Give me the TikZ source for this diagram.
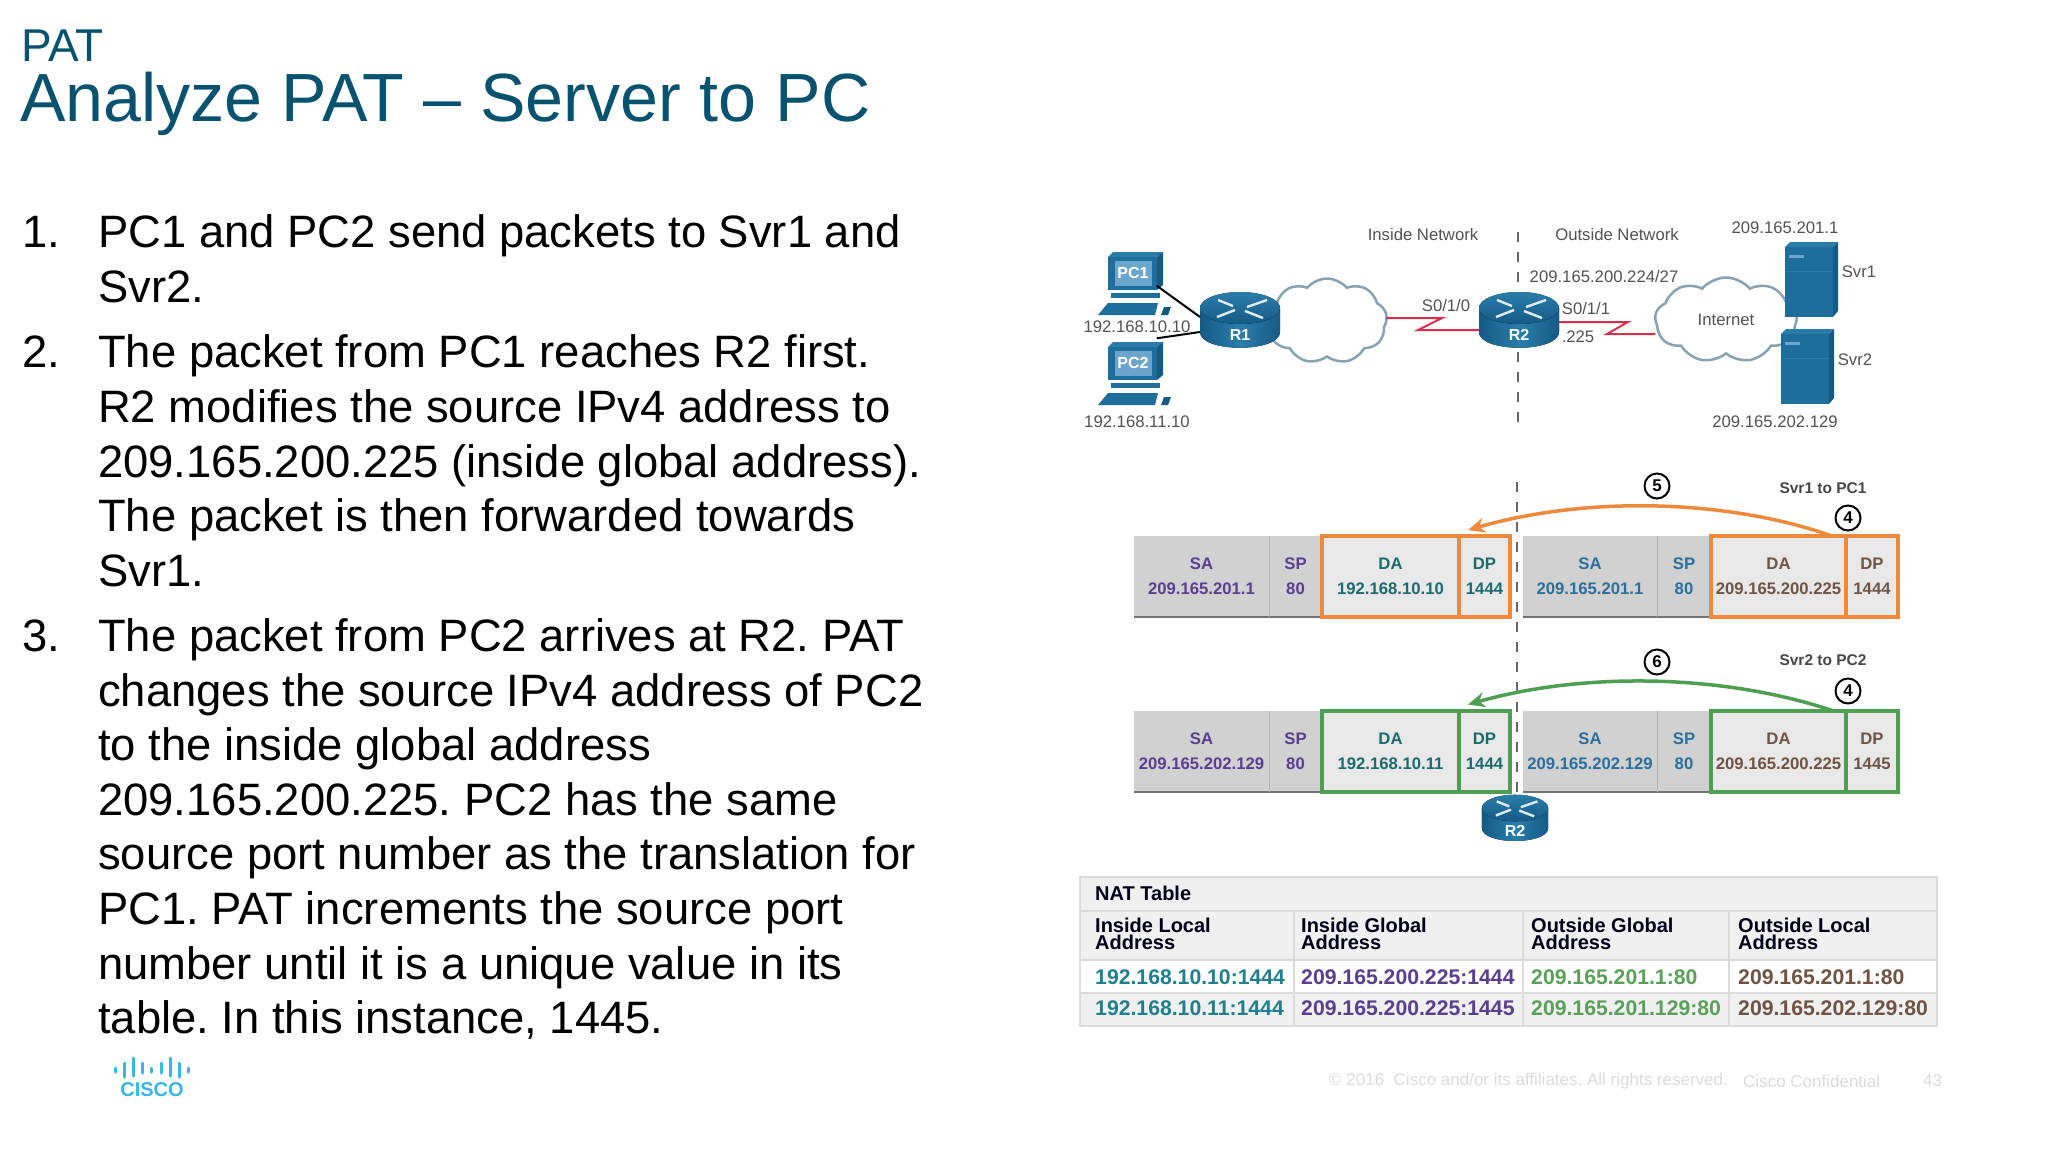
\documentclass[tikz,border=0pt]{standalone}
\usepackage{fontspec}
\setmainfont{Liberation Sans}
\usepackage{xcolor}
\usetikzlibrary{positioning}
\usetikzlibrary{shapes.symbols}
\usetikzlibrary{arrows.meta}

\definecolor{title-blue}{HTML}{07526F}
\definecolor{icon-blue}{HTML}{1E6E9C}
\definecolor{icon-dark}{HTML}{155A85}
\definecolor{icon-light}{HTML}{2A7DAB}
\definecolor{screen-blue}{HTML}{6BA5CB}
\definecolor{cloud-grey}{HTML}{87A3B1}
\definecolor{link-red}{HTML}{D7304F}
\definecolor{mark-orange}{HTML}{EF8A3C}
\definecolor{mark-green}{HTML}{4E9F52}
\definecolor{pk-purple}{HTML}{5B3F8F}
\definecolor{pk-teal}{HTML}{1D6A6E}
\definecolor{pk-blue}{HTML}{2B6F9C}
\definecolor{pk-brown}{HTML}{6F5445}
\definecolor{nat-teal}{HTML}{1F7F8C}
\definecolor{nat-green}{HTML}{5AA05A}
\definecolor{logo-blue}{HTML}{38B6E8}

% name, x, y, scale, label
\newcommand{\routericon}[5]{
\begin{scope}[shift={(#2,#3)},scale=#4]
\fill [left color=icon-dark, right color=icon-dark, middle color=icon-light]
      (-40,0) -- (-40,24) .. controls (-40,45) and (40,45) .. (40,24) -- (40,0) -- cycle;
\fill [top color=icon-light, bottom color=icon-dark] (0,0) ellipse [x radius=40, y radius=16];
\draw [router-x] (-22,-8) -- (-7,-2) (27,-8) -- (7,-1) (-23,9) -- (-5,2) (23,10) -- (5,3);
\node (#1) [router-a, minimum width=80pt*#4] at (0,27) {#5};
\end{scope}
}
% name, x, y, label
\newcommand{\pcicon}[4]{
\begin{scope}[shift={(#2,#3)}]
\fill [icon-light] (-25,-16) -- (-20,-21) -- (30,-21) -- (24,-16) -- cycle;
\fill [icon-dark]  (24,-16) -- (30,-21) -- (30,12) -- (24,17) -- cycle;
\fill [icon-blue]  (-25,-16) rectangle (24,17);
\fill [icon-blue]  (-22,20) rectangle (27,25);
\fill [icon-blue]  (-25,30) -- (25,30) -- (22,42) -- (-35,42) -- cycle;
\fill [icon-dark]  (31,34) -- (38,34) -- (35,42) -- (28,42) -- cycle;
\node (#1) [screen-a] at (0,0) {#4};
\end{scope}
}
% name, x, y
\newcommand{\svricon}[3]{
\begin{scope}[shift={(#2,#3)}]
\fill [icon-light] (-24,-35) -- (-19,-40) -- (29,-40) -- (24,-35) -- cycle;
\fill [icon-dark]  (24,-35) -- (29,-40) -- (29,29) -- (24,35) -- cycle;
\node (#1) [svr-a] at (0,0) {};
\draw [icon-light, line width=1pt] (-24,-11) -- (24,-11);
\fill [screen-blue] (-20,-27) rectangle (-5,-24);
\end{scope}
}

\begin{document}
\frenchspacing
\begin{tikzpicture}
[
x=1pt, y=-1pt,
head-a/.style={anchor=base west, inner sep=0pt, title-blue, font=\fontsize{46pt}{46pt}\selectfont},
head-b/.style={anchor=base west, inner sep=0pt, title-blue, font=\fontsize{68.2pt}{68.2pt}\selectfont},
body-a/.style={anchor=base west, inner sep=0pt, black, font=\fontsize{45.4pt}{45.4pt}\selectfont},
text-a/.style={inner sep=0pt, black!68, font=\fontsize{16.7pt}{16.7pt}\selectfont},
text-b/.style={inner sep=0pt, black!72, font=\fontsize{15.5pt}{15.5pt}\selectfont\bfseries},
foot-a/.style={anchor=west, inner sep=0pt, black!14, font=\fontsize{17pt}{17pt}\selectfont},
screen-a/.style={fill=screen-blue, minimum width=37pt, minimum height=25pt, inner sep=0pt, text=white, font=\fontsize{16pt}{16pt}\selectfont\bfseries},
router-a/.style={inner sep=0pt, outer sep=0pt, text=white, font=\fontsize{16pt}{16pt}\selectfont\bfseries},
router-x/.style={white!85!icon-light, line width=2.4pt},
svr-a/.style={fill=icon-blue, minimum width=48pt, minimum height=70pt, inner sep=0pt, outer sep=0pt},
cloud-a/.style={cloud, cloud puffs=9, cloud puff arc=100, aspect=1.5, draw=cloud-grey, fill=white, line width=2.5pt,
                inner sep=0pt, outer sep=0pt, text=black!68, font=\fontsize{16.7pt}{16.7pt}\selectfont},
wire-a/.style={black, line width=2pt},
serial-a/.style={link-red, line width=2pt},
divide-a/.style={black!60, line width=2.6pt, dash pattern=on 10pt off 10pt},
cell-a/.style={minimum height=81pt, inner sep=0pt, outer sep=0pt, align=center, font=\fontsize{16.7pt}{25pt}\selectfont\bfseries},
cell-grey/.style={cell-a, fill=black!18},
cell-pale/.style={cell-a, fill=black!9},
edge-a/.style={black!55, line width=2pt},
frame-o/.style={draw=mark-orange, line width=4pt},
frame-g/.style={draw=mark-green, line width=4pt},
arc-o/.style={mark-orange, line width=3.5pt, -{Stealth[length=17pt, width=15pt]}},
arc-g/.style={mark-green, line width=3.5pt, -{Stealth[length=17pt, width=15pt]}},
step-a/.style={circle, draw=black, line width=2pt, minimum size=25pt, inner sep=0pt, text=black, font=\fontsize{17pt}{17pt}\selectfont\bfseries},
nat-a/.style={anchor=west, inner sep=0pt, text=black!90!blue, font=\fontsize{20pt}{20pt}\selectfont\bfseries},
nat-b/.style={anchor=west, inner sep=0pt, align=left, text=black!90!blue, font=\fontsize{20pt}{17pt}\selectfont\bfseries},
nat-c/.style={anchor=west, inner sep=0pt, font=\fontsize{21.2pt}{21.2pt}\selectfont\bfseries},
nat-line/.style={black!14, line width=1.2pt}
]
\useasboundingbox [fill=white] (0,0) rectangle (2048,1152);

% title
\node (head-1) [head-a] at (21,61)   {PAT};
\node (head-2) [head-b] at (20,121)  {Analyze PAT – Server to PC};

% left text
\node (num-1)   [body-a] at (22,247)  {1.};
\node (line-1)  [body-a] at (98,247)  {PC1 and PC2 send packets to Svr1 and};
\node (line-2)  [body-a] at (98,302)  {Svr2.};
\node (num-2)   [body-a] at (22,367)  {2.};
\node (line-3)  [body-a] at (98,367)  {The packet from PC1 reaches R2 first.};
\node (line-4)  [body-a] at (98,422)  {R2 modifies the source IPv4 address to};
\node (line-5)  [body-a] at (98,477)  {209.165.200.225 (inside global address).};
\node (line-6)  [body-a] at (98,531)  {The packet is then forwarded towards};
\node (line-7)  [body-a] at (98,586)  {Svr1.};
\node (num-3)   [body-a] at (22,651)  {3.};
\node (line-8)  [body-a] at (98,651)  {The packet from PC2 arrives at R2. PAT};
\node (line-9)  [body-a] at (98,706)  {changes the source IPv4 address of PC2};
\node (line-10) [body-a] at (98,760)  {to the inside global address};
\node (line-11) [body-a] at (98,815)  {209.165.200.225. PC2 has the same};
\node (line-12) [body-a] at (98,869)  {source port number as the translation for};
\node (line-13) [body-a] at (98,924)  {PC1. PAT increments the source port};
\node (line-14) [body-a] at (98,979)  {number until it is a unique value in its};
\node (line-15) [body-a] at (98,1033) {table. In this instance, 1445.};

% topology
\coordinate (div-a1) at (1518,232);
\coordinate (div-a2) at (1518,422);
\draw [divide-a] (div-a1) -- (div-a2);
\node (cloud-1) [cloud-a, minimum width=120pt, minimum height=85pt] at (1327,321) {};
\node (cloud-2) [cloud-a, minimum width=142pt, minimum height=85pt] at (1726,320) {Internet};
\routericon{r1}{1240}{308}{1}{R1}
\routericon{r2}{1519}{308}{1}{R2}
\pcicon{pc-1}{1133}{273}{PC1}
\pcicon{pc-2}{1133}{363}{PC2}
\svricon{svr-1}{1809}{282}
\svricon{svr-2}{1805}{369}
\draw [wire-a] ([xshift=5pt]pc-1.south east) -- ([yshift=18pt]r1.west);
\draw [wire-a] ([xshift=5pt,yshift=12pt]pc-2.north east) -- ([yshift=3pt]r1.west);
\coordinate (zig-a1) at (1442,318);
\coordinate (zig-a2) at (1418,330);
\coordinate (zig-b1) at (1628,322);
\coordinate (zig-b2) at (1607,334);
\draw [serial-a] (zig-a1 -| cloud-1.east) -- (zig-a1) -- (zig-a2) -- (zig-a2 -| r2.west);
\draw [serial-a] (zig-b1 -| r2.east) -- (zig-b1) -- (zig-b2) -- (zig-b2 -| cloud-2.west);

\node (ip-pc-1)  [text-a] at (1137,327) {192.168.10.10};
\node (ip-pc-2)  [text-a] at (1137,422) {192.168.11.10};
\node (side-in)  [text-a] at (1423,235) {Inside Network};
\node (side-out) [text-a] at (1617,235) {Outside Network};
\node (net-out)  [text-a] at (1604,277) {209.165.200.224/27};
\node (if-a)     [text-a] at (1446,306) {S0/1/0};
\node (if-b)     [text-a] at (1586,309) {S0/1/1};
\node (if-c)     [text-a] at (1578,337) {.225};
\node (ip-svr-1) [text-a] at (1785,228) {209.165.201.1};
\node (ip-svr-2) [text-a] at (1775,422) {209.165.202.129};
\node (name-1)   [text-a] at (1859,272) {Svr1};
\node (name-2)   [text-a] at (1855,360) {Svr2};

% packets
\coordinate (div-b1) at (1517,482);
\coordinate (div-b2) at (1517,796);
\draw [divide-a] (div-b1) -- (div-b2);

\node (sa-1a) [cell-grey, minimum width=135pt, text=pk-purple, anchor=west] at (1134,576.5) {SA\\209.165.201.1};
\node (sp-1a) [cell-grey, minimum width=53pt,  text=pk-purple, right = 00.00pt of sa-1a] {SP\\80};
\node (da-1a) [cell-pale, minimum width=137pt, text=pk-teal,   right = 00.00pt of sp-1a] {DA\\192.168.10.10};
\node (dp-1a) [cell-pale, minimum width=51pt,  text=pk-teal,   right = 00.00pt of da-1a] {DP\\1444};
\node (sa-1b) [cell-grey, minimum width=134pt, text=pk-blue,   anchor=west] at (1523,576.5) {SA\\209.165.201.1};
\node (sp-1b) [cell-grey, minimum width=54pt,  text=pk-blue,   right = 00.00pt of sa-1b] {SP\\80};
\node (da-1b) [cell-pale, minimum width=135pt, text=pk-brown,  right = 00.00pt of sp-1b] {DA\\209.165.200.225};
\node (dp-1b) [cell-pale, minimum width=52pt,  text=pk-brown,  right = 00.00pt of da-1b] {DP\\1444};

\node (sa-2a) [cell-grey, minimum width=135pt, text=pk-purple, anchor=west] at (1134,751) {SA\\209.165.202.129};
\node (sp-2a) [cell-grey, minimum width=53pt,  text=pk-purple, right = 00.00pt of sa-2a] {SP\\80};
\node (da-2a) [cell-pale, minimum width=137pt, text=pk-teal,   right = 00.00pt of sp-2a] {DA\\192.168.10.11};
\node (dp-2a) [cell-pale, minimum width=51pt,  text=pk-teal,   right = 00.00pt of da-2a] {DP\\1444};
\node (sa-2b) [cell-grey, minimum width=134pt, text=pk-blue,   anchor=west] at (1523,751) {SA\\209.165.202.129};
\node (sp-2b) [cell-grey, minimum width=54pt,  text=pk-blue,   right = 00.00pt of sa-2b] {SP\\80};
\node (da-2b) [cell-pale, minimum width=135pt, text=pk-brown,  right = 00.00pt of sp-2b] {DA\\209.165.200.225};
\node (dp-2b) [cell-pale, minimum width=52pt,  text=pk-brown,  right = 00.00pt of da-2b] {DP\\1445};

\draw [edge-a] (sa-1a.south west) -- (sp-1a.south east);
\draw [edge-a] (sa-1b.south west) -- (sp-1b.south east);
\draw [edge-a] (sa-2a.south west) -- (sp-2a.south east);
\draw [edge-a] (sa-2b.south west) -- (sp-2b.south east);
\draw [white!70!black, line width=1pt] (sp-1a.north west) -- (sp-1a.south west);
\draw [white!70!black, line width=1pt] (sp-1b.north west) -- (sp-1b.south west);
\draw [white!70!black, line width=1pt] (sp-2a.north west) -- (sp-2a.south west);
\draw [white!70!black, line width=1pt] (sp-2b.north west) -- (sp-2b.south west);

\draw [frame-o] (da-1a.south west) rectangle (da-1a.north east) (dp-1a.south west) rectangle (dp-1a.north east);
\draw [frame-o] (da-1b.south west) rectangle (da-1b.north east) (dp-1b.south west) rectangle (dp-1b.north east);
\draw [frame-g] (da-2a.south west) rectangle (da-2a.north east) (dp-2a.south west) rectangle (dp-2a.north east);
\draw [frame-g] (da-2b.south west) rectangle (da-2b.north east) (dp-2b.south west) rectangle (dp-2b.north east);

\draw [arc-o] ([xshift=-14pt]da-1b.north east) .. controls (1730,500) and (1590,495) .. ([xshift=9pt,yshift=6pt]da-1a.north east);
\draw [arc-g] ([xshift=-14pt]da-2b.north east) .. controls (1730,676) and (1590,670) .. ([xshift=9pt,yshift=6pt]da-2a.north east);

\node (step-5)  [step-a] at (1657,486) {5};
\node (step-4a) [step-a] at (1848,518) {4};
\node (step-6)  [step-a] at (1657,662) {6};
\node (step-4b) [step-a] at (1848,691) {4};
\node (dir-1)   [text-b] at (1823,488) {Svr1 to PC1};
\node (dir-2)   [text-b] at (1823,660) {Svr2 to PC2};
\routericon{r2-b}{1515}{808}{0.83}{R2}

% nat table
\fill [black!6] (1080,877) rectangle (1937,960);
\fill [black!6] (1080,993) rectangle (1937,1026);
\draw [nat-line] (1080,877) rectangle (1937,1026);
\draw [nat-line] (1080,911) -- (1937,911) (1080,960) -- (1937,960) (1080,993) -- (1937,993);
\draw [nat-line] (1294,911) -- (1294,1026) (1523,911) -- (1523,1026) (1729,911) -- (1729,1026);

\node (nat-0)  [nat-a] at (1095,893) {NAT Table};
\node (nat-h1) [nat-b] at (1095,934) {Inside Local\\Address};
\node (nat-h2) [nat-b] at (1301,934) {Inside Global\\Address};
\node (nat-h3) [nat-b] at (1531,934) {Outside Global\\Address};
\node (nat-h4) [nat-b] at (1738,934) {Outside Local\\Address};
\node (nat-a1) [nat-c, text=nat-teal]  at (1095,977)  {192.168.10.10:1444};
\node (nat-a2) [nat-c, text=pk-purple] at (1301,977)  {209.165.200.225:1444};
\node (nat-a3) [nat-c, text=nat-green] at (1531,977)  {209.165.201.1:80};
\node (nat-a4) [nat-c, text=pk-brown]  at (1738,977)  {209.165.201.1:80};
\node (nat-b1) [nat-c, text=nat-teal]  at (1095,1008) {192.168.10.11:1444};
\node (nat-b2) [nat-c, text=pk-purple] at (1301,1008) {209.165.200.225:1445};
\node (nat-b3) [nat-c, text=nat-green] at (1531,1008) {209.165.201.129:80};
\node (nat-b4) [nat-c, text=pk-brown]  at (1738,1008) {209.165.202.129:80};

% footer
\node (foot-1) [foot-a] at (1329,1081) {© 2016\ \ Cisco and/or its affiliates. All rights reserved.};
\node (foot-2) [foot-a] at (1743,1081) {Cisco Confidential};
\node (foot-3) [foot-a] at (1923,1081) {43};

% logo
\draw [logo-blue, line width=3pt, line cap=round]
      (115,1068) -- (115,1072) (124,1063) -- (124,1077) (133.5,1058) -- (133.5,1076)
      (142.5,1063) -- (142.5,1073) (151.5,1068) -- (151.5,1072) (161,1063) -- (161,1073)
      (170,1058) -- (170,1076) (179,1063) -- (179,1077) (188,1068) -- (188,1072);
\node (logo) [inner sep=0pt, text=logo-blue, font=\fontsize{20pt}{20pt}\selectfont\bfseries] at (152,1090) {CISCO};
\end{tikzpicture}
\end{document}
